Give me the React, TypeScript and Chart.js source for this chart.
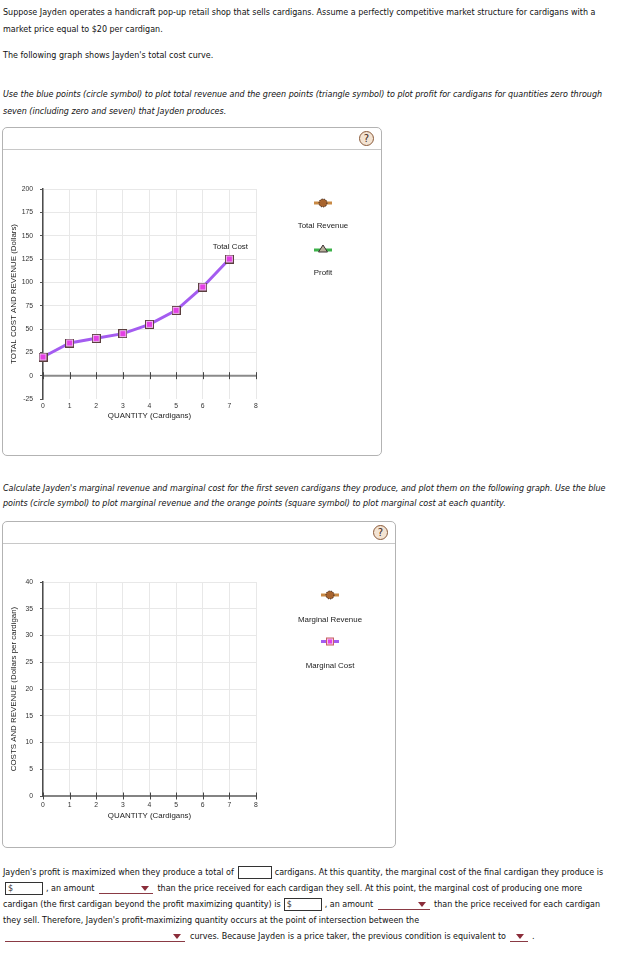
import React, { useEffect, useRef } from "react";
import { Chart, registerables } from "chart.js";

Chart.register(...registerables);

// ---------------- data ----------------
const quantity = [0, 1, 2, 3, 4, 5, 6, 7];
const totalCost = [20, 35, 40, 45, 55, 70, 95, 125];
const totalRevenue: number[] = [];
const profit: number[] = [];
const marginalRevenue: number[] = [];
const marginalCost: number[] = [];
const xTickValues = [0, 1, 2, 3, 4, 5, 6, 7, 8];
const totalYTicks = [-25, 0, 25, 50, 75, 100, 125, 150, 175, 200];
const marginalYTicks = [0, 5, 10, 15, 20, 25, 30, 35, 40];

const CHART_FONT = '"Liberation Sans", Arial, sans-serif';
const TEXT_FONT = '"DejaVu Sans", Verdana, sans-serif';
const LABEL_SIZE = 7.9;
const TICK_SIZE = 6.8;

function toPoints(values: number[]) {
  return values.map((v, i) => ({ x: quantity[i], y: v }));
}

function makeSquare(size: number, border: string, rim: string, fill: string) {
  const c = document.createElement("canvas");
  c.width = size;
  c.height = size;
  const g = c.getContext("2d")!;
  g.fillStyle = border;
  g.fillRect(0, 0, size, size);
  g.fillStyle = rim;
  g.fillRect(1, 1, size - 2, size - 2);
  g.fillStyle = fill;
  g.fillRect(2, 2, size - 4, size - 4);
  return c;
}

function drawMarker(ctx: CanvasRenderingContext2D, kind: string, x: number, y: number) {
  ctx.save();
  if (kind === "circle") {
    ctx.strokeStyle = "#c98a45";
    ctx.lineWidth = 3;
    ctx.beginPath();
    ctx.moveTo(x - 9, y);
    ctx.lineTo(x + 9, y);
    ctx.stroke();
    ctx.beginPath();
    ctx.arc(x, y, 4, 0, Math.PI * 2);
    ctx.fillStyle = "#a8642e";
    ctx.fill();
    ctx.setLineDash([1.2, 1.2]);
    ctx.lineWidth = 1;
    ctx.strokeStyle = "#2a2020";
    ctx.stroke();
  } else if (kind === "triangle") {
    ctx.strokeStyle = "#3db24a";
    ctx.lineWidth = 3;
    ctx.beginPath();
    ctx.moveTo(x - 9, y);
    ctx.lineTo(x + 9, y);
    ctx.stroke();
    ctx.beginPath();
    ctx.moveTo(x, y - 5);
    ctx.lineTo(x + 4.5, y + 2);
    ctx.lineTo(x - 4.5, y + 2);
    ctx.closePath();
    ctx.fillStyle = "#b8ae9c";
    ctx.fill();
    ctx.lineWidth = 1;
    ctx.strokeStyle = "#3a3030";
    ctx.stroke();
  } else {
    ctx.strokeStyle = "#a45cf0";
    ctx.lineWidth = 3;
    ctx.beginPath();
    ctx.moveTo(x - 9, y);
    ctx.lineTo(x + 9, y);
    ctx.stroke();
    ctx.fillStyle = "#c86060";
    ctx.fillRect(x - 4, y - 4, 8, 8);
    ctx.fillStyle = "#f3c0f0";
    ctx.fillRect(x - 3, y - 3, 6, 6);
    ctx.fillStyle = "#e43fe4";
    ctx.fillRect(x - 2, y - 2, 4, 4);
  }
  ctx.restore();
}

function makeLegendPlugin(
  items: { dataset: number; kind: string }[],
  offX: number,
  offY: number,
  textGap: number,
  step: number
) {
  return {
    id: "sideLegend",
    afterDraw(chart: any) {
      const { ctx, chartArea } = chart;
      const cx = chartArea.right + offX;
      items.forEach((it, i) => {
        const my = chartArea.top + offY + i * step;
        drawMarker(ctx, it.kind, cx, my);
        ctx.save();
        ctx.font = `${LABEL_SIZE}px ${CHART_FONT}`;
        ctx.fillStyle = "#222";
        ctx.textAlign = "center";
        ctx.textBaseline = "middle";
        ctx.fillText(chart.data.datasets[it.dataset].label, cx, my + textGap);
        ctx.restore();
      });
    },
  };
}

function makeZeroAxisPlugin(lineColor: string, lineWidth: number, tickColor: string) {
  return {
    id: "zeroAxis",
    beforeDatasetsDraw(chart: any) {
      const { ctx, chartArea, scales } = chart;
      const x = scales.x;
      const y = scales.y;
      const y0 = y.getPixelForValue(0);
      ctx.save();
      ctx.strokeStyle = lineColor;
      ctx.lineWidth = lineWidth;
      ctx.beginPath();
      ctx.moveTo(chartArea.left, y0);
      ctx.lineTo(chartArea.right, y0);
      ctx.stroke();
      ctx.strokeStyle = tickColor;
      ctx.lineWidth = 1;
      ctx.beginPath();
      for (const t of x.ticks) {
        const px = Math.round(x.getPixelForValue(t.value)) + 0.5;
        ctx.moveTo(px, y0 - 3.5);
        ctx.lineTo(px, y0 + 3.5);
      }
      ctx.stroke();
      ctx.restore();
    },
  };
}

const endLabelPlugin = {
  id: "endLabel",
  afterDatasetsDraw(chart: any) {
    const meta = chart.getDatasetMeta(0);
    const pts = meta.data;
    if (!pts.length) return;
    const p = pts[pts.length - 1];
    const { ctx } = chart;
    ctx.save();
    ctx.font = `${LABEL_SIZE}px ${CHART_FONT}`;
    ctx.fillStyle = "#222";
    ctx.textAlign = "center";
    ctx.textBaseline = "middle";
    ctx.fillText(chart.data.datasets[0].label, p.x + 1, p.y - 12);
    ctx.restore();
  },
};

function makeScales(opts: {
  yTicks: number[];
  yTitle: string;
  xHeight: number;
  xPad: number;
  hide: number[];
}) {
  const { yTicks, yTitle, xHeight, xPad, hide } = opts;
  return {
    x: {
      type: "linear",
      min: xTickValues[0],
      max: xTickValues[xTickValues.length - 1],
      afterBuildTicks: (s: any) => {
        s.ticks = xTickValues.map((v) => ({ value: v }));
      },
      ticks: {
        padding: xPad,
        font: { family: CHART_FONT, size: TICK_SIZE },
        color: "#333",
        maxRotation: 0,
        autoSkip: false,
        callback: (v: any) => String(v),
      },
      grid: { color: "#e8e8e8", lineWidth: 1, drawTicks: false },
      border: { display: false },
      title: {
        display: true,
        text: "QUANTITY (Cardigans)",
        font: { family: CHART_FONT, size: LABEL_SIZE },
        color: "#222",
        padding: 0,
      },
      afterFit: (s: any) => {
        s.height = xHeight;
      },
    },
    y: {
      type: "linear",
      min: yTicks[0],
      max: yTicks[yTicks.length - 1],
      afterBuildTicks: (s: any) => {
        s.ticks = yTicks.map((v) => ({ value: v }));
      },
      ticks: {
        padding: 7,
        font: { family: CHART_FONT, size: TICK_SIZE },
        color: "#333",
        autoSkip: false,
        callback: (v: any) => String(v),
      },
      grid: {
        color: (c: any) =>
          c.tick && hide.includes(c.tick.value) ? "rgba(0,0,0,0)" : "#e8e8e8",
        tickColor: "#555",
        tickLength: 3,
        drawTicks: true,
      },
      border: { display: true, color: "#4d4d4d", width: 1.5 },
      title: {
        display: true,
        text: yTitle,
        font: { family: CHART_FONT, size: LABEL_SIZE },
        color: "#222",
        padding: 0,
      },
      afterFit: (s: any) => {
        s.width = 34;
      },
    },
  };
}

function makeTotalChart() {
  const sq = makeSquare(9, "#5b3f3f", "#f2b8f2", "#e43fe4");
  return {
    type: "line",
    data: {
      datasets: [
        {
          label: "Total Cost",
          data: toPoints(totalCost),
          borderColor: "#a45cf0",
          borderWidth: 3,
          pointStyle: sq,
          pointRadius: 5,
          pointHoverRadius: 5,
          tension: 0,
          clip: false,
        },
        { label: "Total Revenue", data: toPoints(totalRevenue), borderColor: "#c98a45" },
        { label: "Profit", data: toPoints(profit), borderColor: "#3db24a" },
      ],
    },
    options: {
      animation: false,
      responsive: false,
      layout: { padding: { left: 6, top: 39, right: 125, bottom: 29 } },
      plugins: { legend: { display: false }, tooltip: { enabled: false } },
      scales: makeScales({
        yTicks: totalYTicks,
        yTitle: "TOTAL COST AND REVENUE (Dollars)",
        xHeight: 22,
        xPad: 3,
        hide: [-25, 0],
      }),
    },
    plugins: [
      makeZeroAxisPlugin("#8a8a8a", 2, "#444"),
      endLabelPlugin,
      makeLegendPlugin(
        [
          { dataset: 1, kind: "circle" },
          { dataset: 2, kind: "triangle" },
        ],
        67,
        14,
        23,
        47
      ),
    ],
  };
}

function makeMarginalChart() {
  return {
    type: "line",
    data: {
      datasets: [
        { label: "Marginal Revenue", data: toPoints(marginalRevenue), borderColor: "#c98a45" },
        { label: "Marginal Cost", data: toPoints(marginalCost), borderColor: "#a45cf0" },
      ],
    },
    options: {
      animation: false,
      responsive: false,
      layout: { padding: { left: 6, top: 38, right: 138, bottom: 23 } },
      plugins: { legend: { display: false }, tooltip: { enabled: false } },
      scales: makeScales({
        yTicks: marginalYTicks,
        yTitle: "COSTS AND REVENUE (Dollars per cardigan)",
        xHeight: 25,
        xPad: 5,
        hide: [0],
      }),
    },
    plugins: [
      makeZeroAxisPlugin("#5a5a5a", 1.5, "#444"),
      makeLegendPlugin(
        [
          { dataset: 0, kind: "circle" },
          { dataset: 1, kind: "square" },
        ],
        74,
        13,
        24.5,
        46.5
      ),
    ],
  };
}

function ChartCanvas(props: { make: () => any; left: number; top: number; width: number; height: number }) {
  const ref = useRef<HTMLCanvasElement>(null);
  useEffect(() => {
    const chart = new Chart(ref.current as HTMLCanvasElement, props.make());
    return () => chart.destroy();
  }, []);
  return (
    <canvas
      ref={ref}
      width={props.width}
      height={props.height}
      style={{
        position: "absolute",
        left: props.left,
        top: props.top,
        width: props.width,
        height: props.height,
      }}
    />
  );
}

function Line(props: { y: number; italic?: boolean; children: any }) {
  return (
    <div
      style={{
        position: "absolute",
        left: 3,
        top: props.y - 8,
        height: 16,
        lineHeight: "16px",
        whiteSpace: "nowrap",
        fontFamily: TEXT_FONT,
        fontSize: 8,
        fontStyle: props.italic ? "italic" : "normal",
        color: "#111",
      }}
    >
      {props.children}
    </div>
  );
}

function Panel(props: { left: number; top: number; width: number; height: number }) {
  return (
    <div
      style={{
        position: "absolute",
        left: props.left,
        top: props.top,
        width: props.width,
        height: props.height,
        boxSizing: "border-box",
        border: "1px solid #b3b3b3",
        borderRadius: 5,
        background: "#fff",
      }}
    >
      <div style={{ position: "absolute", left: 0, right: 0, top: 21, height: 1, background: "#c8c8c8" }} />
      <div
        style={{
          position: "absolute",
          right: 7,
          top: 3,
          width: 15,
          height: 15,
          boxSizing: "border-box",
          borderRadius: "50%",
          border: "1px solid #8a5a3a",
          background: "#f3e3d2",
          color: "#3a2418",
          fontFamily: TEXT_FONT,
          fontSize: 10,
          lineHeight: "13px",
          textAlign: "center",
        }}
      >
        ?
      </div>
    </div>
  );
}

function Box(props: { w: number; dollar?: boolean; ml?: number; mr?: number }) {
  return (
    <span
      style={{
        display: "inline-block",
        width: props.w,
        height: 13,
        boxSizing: "border-box",
        border: "1px solid #333",
        verticalAlign: "middle",
        marginLeft: props.ml ?? 0,
        marginRight: props.mr ?? 0,
        fontSize: 8,
        lineHeight: "11px",
        paddingLeft: 2,
        color: "#333",
        background: "#fff",
      }}
    >
      {props.dollar ? "$" : ""}
    </span>
  );
}

function Drop(props: { w: number; ml?: number; mr?: number }) {
  return (
    <span
      style={{
        display: "inline-block",
        position: "relative",
        width: props.w,
        height: 11,
        boxSizing: "border-box",
        borderBottom: "1px solid #8a3a44",
        verticalAlign: "middle",
        marginLeft: props.ml ?? 0,
        marginRight: props.mr ?? 0,
      }}
    >
      <span
        style={{
          position: "absolute",
          right: 4,
          top: 3,
          width: 0,
          height: 0,
          borderLeft: "4px solid transparent",
          borderRight: "4px solid transparent",
          borderTop: "5px solid #8b2d3a",
        }}
      />
    </span>
  );
}

export default function App() {
  return (
    <div style={{ position: "absolute", left: 0, top: 0, width: 631, height: 961, background: "#fff", overflow: "hidden" }}>
      <Line y={13}>
        Suppose Jayden operates a handicraft pop-up retail shop that sells cardigans. Assume a perfectly competitive market structure for cardigans with a
      </Line>
      <Line y={30}>market price equal to $20 per cardigan.</Line>
      <Line y={56}>The following graph shows Jayden's total cost curve.</Line>
      <Line y={95} italic>
        Use the blue points (circle symbol) to plot total revenue and the green points (triangle symbol) to plot profit for cardigans for quantities zero through
      </Line>
      <Line y={112} italic>seven (including zero and seven) that Jayden produces.</Line>

      <Panel left={2} top={127} width={380} height={329} />
      <ChartCanvas make={makeTotalChart} left={3} top={150} width={378} height={300} />

      <Line y={489} italic>
        Calculate Jayden's marginal revenue and marginal cost for the first seven cardigans they produce, and plot them on the following graph. Use the blue
      </Line>
      <Line y={504} italic>
        points (circle symbol) to plot marginal revenue and the orange points (square symbol) to plot marginal cost at each quantity.
      </Line>

      <Panel left={2} top={521} width={394} height={327} />
      <ChartCanvas make={makeMarginalChart} left={3} top={544} width={391} height={300} />

      <Line y={873}>
        Jayden's profit is maximized when they produce a total of
        <Box w={34} ml={4} mr={3} />
        cardigans. At this quantity, the marginal cost of the final cardigan they produce is
      </Line>
      <Line y={889}>
        <Box w={38} dollar ml={2} mr={3} />
        , an amount
        <Drop w={54} ml={5} mr={4} />
        than the price received for each cardigan they sell. At this point, the marginal cost of producing one more
      </Line>
      <Line y={905}>
        cardigan (the first cardigan beyond the profit maximizing quantity) is
        <Box w={38} dollar ml={3} mr={3} />
        , an amount
        <Drop w={52} ml={5} mr={4} />
        than the price received for each cardigan
      </Line>
      <Line y={921}>
        they sell. Therefore, Jayden's profit-maximizing quantity occurs at the point of intersection between the
      </Line>
      <Line y={937}>
        <Drop w={180} ml={2} mr={5} />
        curves. Because Jayden is a price taker, the previous condition is equivalent to
        <Drop w={18} ml={4} mr={4} />.
      </Line>
    </div>
  );
}
